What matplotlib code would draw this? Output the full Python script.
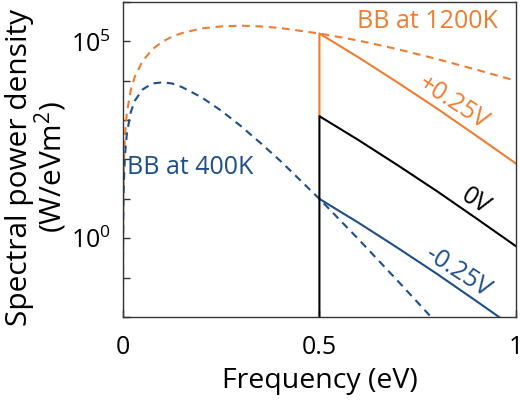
import numpy as np
import matplotlib
matplotlib.use('Agg')
import matplotlib.pyplot as plt
from matplotlib.ticker import FixedLocator, FixedFormatter

ORANGE = '#ED7D31'
BLUE = '#1C4E8C'
FONT = 'Open Sans'

plt.rcParams['font.family'] = [FONT, 'DejaVu Sans']
plt.rcParams['mathtext.fontset'] = 'custom'
plt.rcParams['mathtext.rm'] = FONT
plt.rcParams['mathtext.it'] = FONT

# photon energy (eV) for the blackbody curves
bb_energy = [1e-5, 1e-4, 3e-4, 0.001, 0.002, 0.005, 0.01, 0.02, 0.03, 0.05,
             0.075, 0.1, 0.125, 0.15, 0.2, 0.25, 0.3, 0.35, 0.4, 0.5,
             0.6, 0.7, 0.8, 0.9, 1.0]
# log10 of spectral power density (W/eVm^2)
bb_1200k = [-2.79, -0.79, 0.17, 1.21, 1.81, 2.60, 3.19, 3.77, 4.10, 4.50,
            4.80, 4.99, 5.12, 5.21, 5.33, 5.38, 5.40, 5.38, 5.34, 5.20,
            5.02, 4.80, 4.55, 4.28, 4.00]
bb_400k = [-3.26, -1.26, -0.31, 0.73, 1.33, 2.10, 2.67, 3.21, 3.49, 3.78,
           3.93, 3.96, 3.93, 3.84, 3.58, 3.24, 2.85, 2.42, 1.97, 1.00,
           -0.03, -1.09, -2.17, -3.3, -4.4]

# emission above the 0.5 eV gap
emit_energy = [0.5, 0.6, 0.7, 0.8, 0.9, 1.0]
emit_plus = [5.20, 4.59, 3.95, 3.29, 2.60, 1.90]
emit_zero = [3.10, 2.49, 1.85, 1.19, 0.50, -0.20]
emit_minus = [1.00, 0.39, -0.25, -0.91, -1.60, -2.30]
gap_floor = -5  # below the axis: nothing emitted under the gap

fig = plt.figure(figsize=(5.2, 4.01), dpi=100)
ax = fig.add_axes([0.2365, 0.2095, 0.7555, 0.7855])

dash = (0, (3.7, 2.7))
ax.plot(bb_energy, 10 ** np.array(bb_1200k), color=ORANGE, lw=1.5, ls=dash)
ax.plot(bb_energy, 10 ** np.array(bb_400k), color=BLUE, lw=1.5, ls=dash)
ax.plot(emit_energy, 10 ** np.array(emit_minus), color=BLUE, lw=1.5)
# the orange edge is only seen down to where the 0V line starts
ax.plot([emit_energy[0]] + emit_energy,
        10 ** np.array([emit_zero[0]] + emit_plus), color=ORANGE, lw=1.5)
ax.plot([emit_energy[0]] + emit_energy,
        10 ** np.array([gap_floor] + emit_zero), color='black', lw=1.5)

ax.set_yscale('log')
ax.set_xlim(0, 1)
ax.set_ylim(1e-2, 1e6)

decades = [10.0 ** k for k in range(-2, 7)]
ax.yaxis.set_major_locator(FixedLocator(decades))
ax.yaxis.set_major_formatter(FixedFormatter(
    ['' if d not in (1.0, 1e5) else (r'$10^{0}$' if d == 1.0 else r'$10^{5}$')
     for d in decades]))
ax.yaxis.set_minor_locator(FixedLocator([]))
ax.set_xticks([0, 0.5, 1])
ax.set_xticklabels(['0', '0.5', '1'])
ax.tick_params(direction='in', length=5, width=1, labelsize=18, color='#333333')
ax.tick_params(axis='x', pad=13)
ax.tick_params(axis='y', pad=9)
for s in ax.spines.values():
    s.set_color('#333333')
    s.set_linewidth(1)

ax.set_xlabel('Frequency (eV)', fontsize=20.5, labelpad=5)
ax.set_ylabel('Spectral power density\n(W/eVm$^2$)', fontsize=21.5,
              linespacing=0.95)
ax.yaxis.set_label_coords(-0.137, 0.476)

ax.text(0.954, 0.937, 'BB at 1200K', color=ORANGE, fontsize=18,
        transform=ax.transAxes, ha='right', va='center')
ax.text(0.01, 0.475, 'BB at 400K', color=BLUE, fontsize=18,
        transform=ax.transAxes, ha='left', va='center')
ax.text(0.84, 10 ** 3.43, '+0.25V', color=ORANGE, fontsize=18, rotation=-33,
        ha='center', va='center', rotation_mode='anchor')
ax.text(0.898, 10 ** 0.94, '0V', color='black', fontsize=18, rotation=-33,
        ha='center', va='center', rotation_mode='anchor')
ax.text(0.852, 10 ** -0.86, '-0.25V', color=BLUE, fontsize=18, rotation=-33,
        ha='center', va='center', rotation_mode='anchor')

fig.savefig('out.png', dpi=100)
